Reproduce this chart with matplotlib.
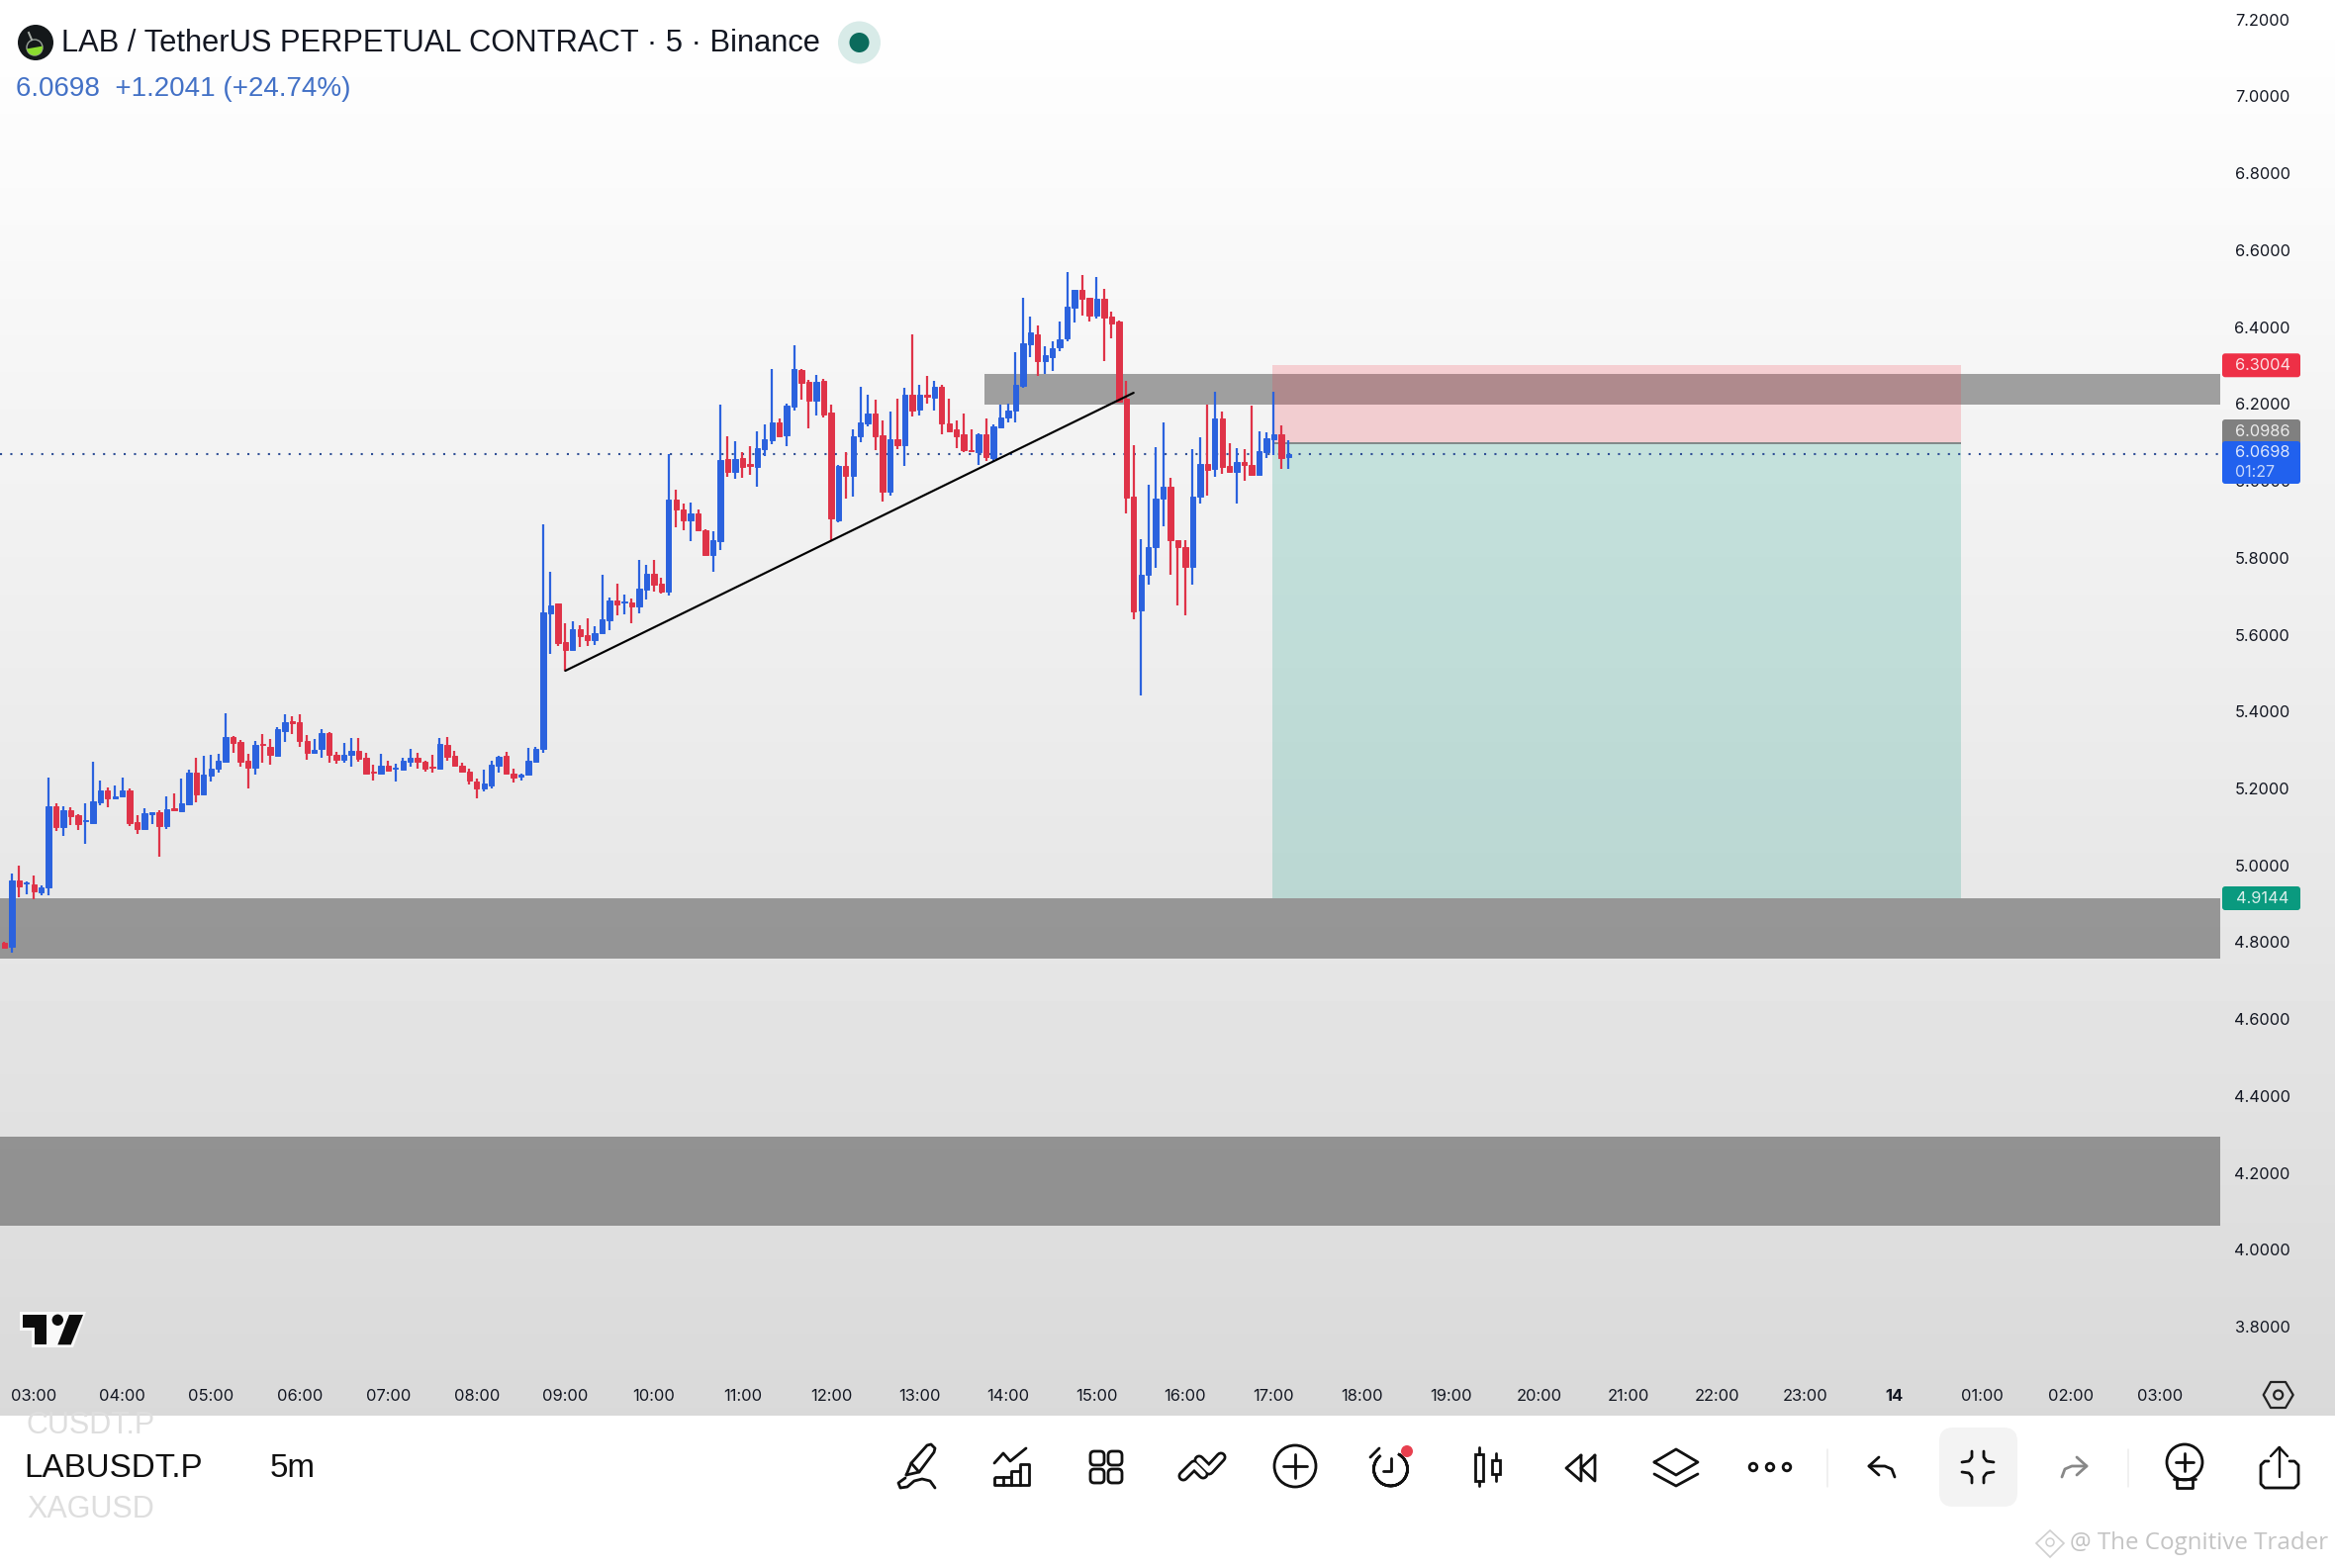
import numpy as np
import matplotlib
matplotlib.use("Agg")
import matplotlib.pyplot as plt
from matplotlib.patches import Rectangle, FancyBboxPatch, Circle, Polygon, Wedge

W, H = 2360, 1585
CHART_H = 1431
PRICE_W = 2244

# ---------- data ----------
directions = ("r"
    "brbrbbrbrr" "bbbrbbrrbb" "rbrbbrbbbb" "rrrbrrbbrr" "rbbrrbbrrr"
    "brbbbrrrbr" "rrrrbbbrrb" "bbbbrrbrrb" "bbrbrbbrrb" "rrbrrbbrbr"
    "rbbbrbbrrb" "rrbrbbbrrb" "rbrbrbrrrr" "rbrbbbbbbr" "bbbbbrrbrr"
    "rrrbbbbrrr" "bbrbrrbrrb" "bbrb")
highs = [4.802,
    4.978,4.999,4.959,4.974,4.948,5.228,5.162,5.154,5.151,5.134,
    5.161,5.269,5.220,5.203,5.209,5.228,5.201,5.131,5.149,5.137,
    5.143,5.179,5.187,5.225,5.248,5.280,5.285,5.287,5.290,5.395,
    5.336,5.325,5.291,5.323,5.341,5.328,5.359,5.393,5.388,5.393,
    5.338,5.328,5.355,5.347,5.295,5.318,5.331,5.331,5.292,5.261,
    5.289,5.271,5.264,5.280,5.302,5.292,5.273,5.287,5.331,5.333,
    5.299,5.268,5.252,5.227,5.248,5.273,5.284,5.295,5.252,5.239,
    5.305,5.307,5.887,5.763,5.681,5.629,5.634,5.625,5.642,5.621,
    5.755,5.696,5.732,5.703,5.695,5.794,5.781,5.794,5.747,6.070,
    5.976,5.940,5.943,5.926,5.874,5.870,6.198,6.117,6.103,6.075,
    6.091,6.129,6.146,6.291,6.161,6.200,6.352,6.290,6.262,6.276,
    6.264,6.197,6.041,6.074,6.134,6.245,6.224,6.211,6.156,6.180,
    6.213,6.242,6.380,6.249,6.274,6.261,6.249,6.213,6.156,6.175,
    6.135,6.123,6.163,6.147,6.199,6.200,6.334,6.476,6.427,6.403,
    6.351,6.363,6.415,6.543,6.497,6.535,6.477,6.530,6.499,6.439,
    6.417,6.260,6.094,5.848,5.990,6.087,6.151,6.009,5.845,5.847,
    6.082,6.113,6.199,6.231,6.180,6.099,6.084,6.082,6.195,6.128,
    6.127,6.231,6.144,6.105]
body_tops = [4.798,
    4.961,4.961,4.956,4.950,4.942,5.154,5.154,5.144,5.143,5.131,
    5.117,5.167,5.194,5.195,5.180,5.194,5.196,5.113,5.136,5.137,
    5.137,5.145,5.149,5.161,5.242,5.241,5.236,5.252,5.271,5.334,
    5.334,5.321,5.271,5.312,5.315,5.307,5.354,5.373,5.374,5.372,
    5.323,5.301,5.345,5.345,5.287,5.288,5.298,5.299,5.280,5.244,
    5.258,5.258,5.253,5.271,5.281,5.281,5.269,5.256,5.315,5.312,
    5.284,5.260,5.244,5.218,5.212,5.263,5.283,5.284,5.239,5.237,
    5.271,5.302,5.658,5.677,5.681,5.580,5.614,5.614,5.599,5.605,
    5.640,5.689,5.689,5.686,5.684,5.719,5.758,5.758,5.732,5.950,
    5.950,5.926,5.914,5.915,5.871,5.846,6.054,6.056,6.057,6.058,
    6.044,6.084,6.108,6.151,6.151,6.195,6.290,6.288,6.257,6.257,
    6.259,6.177,6.039,6.038,6.116,6.151,6.175,6.175,6.118,6.108,
    6.108,6.224,6.224,6.224,6.223,6.245,6.245,6.149,6.133,6.120,
    6.081,6.120,6.120,6.141,6.165,6.184,6.250,6.357,6.386,6.382,
    6.327,6.346,6.369,6.454,6.497,6.496,6.476,6.473,6.473,6.427,
    6.414,6.213,5.958,5.755,5.829,5.953,5.984,5.984,5.845,5.827,
    5.960,6.045,6.044,6.162,6.162,6.038,6.050,6.050,6.041,6.076,
    6.110,6.120,6.120,6.0698]
body_bottoms = [4.787,
    4.789,4.945,4.952,4.932,4.930,4.942,5.100,5.100,5.129,5.108,
    5.114,5.110,5.165,5.173,5.174,5.179,5.110,5.094,5.094,5.134,
    5.102,5.102,5.144,5.141,5.160,5.185,5.185,5.233,5.251,5.269,
    5.319,5.269,5.254,5.254,5.312,5.287,5.286,5.350,5.371,5.323,
    5.293,5.293,5.302,5.288,5.275,5.275,5.288,5.277,5.239,5.242,
    5.239,5.247,5.251,5.250,5.269,5.269,5.251,5.253,5.252,5.283,
    5.260,5.244,5.220,5.200,5.200,5.209,5.260,5.239,5.228,5.230,
    5.237,5.270,5.302,5.655,5.578,5.561,5.561,5.597,5.587,5.587,
    5.605,5.638,5.678,5.683,5.674,5.674,5.718,5.731,5.712,5.713,
    5.926,5.898,5.898,5.871,5.806,5.808,5.844,6.024,6.024,6.036,
    6.039,6.036,6.082,6.105,6.117,6.118,6.194,6.255,6.208,6.208,
    6.173,5.902,5.897,6.014,6.013,6.116,6.149,6.117,5.972,5.972,
    6.093,6.094,6.183,6.185,6.219,6.217,6.150,6.130,6.117,6.080,
    6.077,6.075,6.062,6.060,6.140,6.165,6.184,6.247,6.356,6.312,
    6.312,6.322,6.348,6.370,6.451,6.474,6.429,6.429,6.425,6.410,
    6.206,5.957,5.661,5.664,5.756,5.828,5.954,5.845,5.828,5.777,
    5.777,5.960,6.028,6.032,6.037,6.022,6.024,6.040,6.015,6.016,
    6.075,6.108,6.060,6.061]
lows = [4.786,
    4.772,4.916,4.925,4.913,4.922,4.922,5.089,5.076,5.105,5.092,
    5.055,5.110,5.156,5.151,5.173,5.179,5.101,5.081,5.094,5.107,
    5.022,5.094,5.143,5.141,5.156,5.165,5.184,5.218,5.242,5.269,
    5.292,5.257,5.199,5.237,5.268,5.261,5.286,5.321,5.341,5.308,
    5.275,5.291,5.280,5.266,5.265,5.267,5.256,5.269,5.239,5.221,
    5.235,5.244,5.218,5.250,5.257,5.251,5.244,5.241,5.252,5.273,
    5.258,5.242,5.211,5.175,5.191,5.201,5.242,5.235,5.216,5.221,
    5.237,5.270,5.293,5.551,5.571,5.505,5.561,5.569,5.571,5.574,
    5.605,5.612,5.651,5.653,5.629,5.655,5.691,5.712,5.707,5.702,
    5.878,5.871,5.844,5.871,5.804,5.764,5.820,6.010,6.005,6.008,
    6.015,5.984,6.065,6.096,6.114,6.090,6.183,6.211,6.137,6.171,
    6.165,5.844,5.892,5.954,5.960,6.101,6.142,6.080,5.945,5.961,
    6.082,6.039,6.168,6.171,6.201,6.183,6.120,6.127,6.086,6.075,
    6.075,6.041,6.051,6.050,6.140,6.151,6.151,6.242,6.322,6.274,
    6.277,6.286,6.338,6.363,6.413,6.429,6.415,6.423,6.312,6.371,
    6.204,5.916,5.640,5.441,5.731,5.773,5.881,5.756,5.677,5.651,
    5.731,5.942,5.962,6.011,6.019,6.020,5.940,6.001,6.013,6.016,
    6.058,6.067,6.031,6.031]
first_bar = -4   # bars are counted from the 03:00 candle

price_ticks = [7.2,7.0,6.8,6.6,6.4,6.2,6.0,5.8,5.6,5.4,5.2,5.0,4.8,4.6,4.4,4.2,4.0,3.8]
time_labels = ["03:00","04:00","05:00","06:00","07:00","08:00","09:00","10:00","11:00","12:00",
               "13:00","14:00","15:00","16:00","17:00","18:00","19:00","20:00","21:00","22:00",
               "23:00","14","01:00","02:00","03:00"]

zone_tops = [6.278, 4.914, 4.295]
zone_bottoms = [6.198, 4.757, 4.063]
zone_starts = [128.8, None, None]

trend_bars = [72, 149]
trend_prices = [5.506, 6.229]

entry_price = 6.0986
stop_price = 6.3004
target_price = 4.9144
last_price = 6.0698
position_bars = [167.8, 261.1]

# ---------- colours ----------
UP = "#2b62de"
DOWN = "#df3348"
INK = "#131722"

fig = plt.figure(figsize=(W/100, H/100), dpi=100, facecolor="white")
ax = fig.add_axes([0, 1-CHART_H/H, 1, CHART_H/H])
bar_px, bar_x0 = 7.46, 34.2
ax.set_xlim((0-bar_x0)/bar_px, (W-bar_x0)/bar_px)
ax.set_ylim(7.2-(CHART_H-19.6)/388.7, 7.2+19.6/388.7)

# background gradient
grad = np.linspace(255, 217, 256).reshape(-1, 1)/255
ax.imshow(grad, cmap="gray", vmin=0, vmax=1, aspect="auto", extent=[*ax.get_xlim(), *ax.get_ylim()],
          origin="upper", zorder=0, interpolation="bilinear")

x_right = (PRICE_W-bar_x0)/bar_px
x_left = ax.get_xlim()[0]
for t, b, s in zip(zone_tops, zone_bottoms, zone_starts):
    x0 = x_left if s is None else s
    ax.add_patch(Rectangle((x0, b), x_right-x0, t-b, fc="black", alpha=0.35, lw=0, zorder=1))

# long position
x0, x1 = position_bars
ax.add_patch(Rectangle((x0, entry_price), x1-x0, stop_price-entry_price, fc="#f23645", alpha=0.2, lw=0, zorder=1.2))
ax.add_patch(Rectangle((x0, target_price), x1-x0, entry_price-target_price, fc="#089981", alpha=0.2, lw=0, zorder=1.2))
ax.plot([x0, x1], [entry_price]*2, color="#808888", lw=1.4, zorder=1.3, solid_capstyle="butt")

# last price line
ax.plot([x_left, x_right], [last_price]*2, color="#2f4f96", lw=1.5, ls=(0, (1, 4)), zorder=1.4)

# candles
xs = np.arange(len(highs)) + first_bar
is_up = np.array([d == "b" for d in directions])
tops, bots = np.array(body_tops), np.array(body_bottoms)
colors = np.where(is_up, UP, DOWN)
ax.vlines(xs, lows, highs, colors=colors, lw=1.6, zorder=3)
ax.bar(xs, tops-bots, bottom=bots, width=0.72, color=colors, edgecolor=colors, lw=0.7, zorder=3.1)

# trend line
ax.plot(trend_bars, trend_prices, color="black", lw=1.55, zorder=4, solid_capstyle="round")

# axes / ticks
for s in ax.spines.values():
    s.set_visible(False)
ax.set_yticks(price_ticks)
ax.set_yticklabels([f"{p:.4f}" for p in price_ticks], family="Inter", fontsize=11.8, color=INK)
ax.yaxis.tick_right()
ax.tick_params(axis="y", length=0, pad=-52.8)
for lb in ax.get_yticklabels():
    lb.set_ha("center")
ax.set_xticks(np.arange(len(time_labels))*12)
ax.set_xticklabels(time_labels, family="Inter", fontsize=11.9, color=INK)
ax.tick_params(axis="x", length=0, pad=-19.8)
for lb in ax.get_xticklabels():
    if lb.get_text() == "14":
        lb.set_fontweight("bold")

# ---------- overlay in pixel space ----------
ui = fig.add_axes([0, 0, 1, 1], zorder=10)
ui.set_xlim(0, W)
ui.set_ylim(H, 0)
ui.axis("off")

def py(price):
    return H - ax.transData.transform((0, price))[1]

def tag(price, color, text, y0=None, y1=None, text_y=None):
    yc = py(price)
    y0 = yc-12 if y0 is None else y0
    y1 = yc+12 if y1 is None else y1
    ui.add_patch(FancyBboxPatch((2246+3, y0+3), 79-6, y1-y0-6, boxstyle="round,pad=3",
                                fc=color, ec="none", zorder=3))
    if text:
        ui.text(2287, yc+0.5 if text_y is None else text_y, text, ha="center", va="center", family="Inter",
                fontsize=11.8, color="white", alpha=0.85, zorder=4)

tag(stop_price, "#ee3046", "6.3004")
tag(target_price, "#0a9a7f", "4.9144")
tag(entry_price, "#808080", "6.0986", y0=424, y1=452, text_y=436.5)
tag(last_price, "#2161ee", "6.0698", y0=446, y1=489, text_y=458)
ui.text(2259, 477, "01:27", ha="left", va="center", family="Inter", fontsize=11.5, color="white", alpha=0.75, zorder=4)

# header
ui.text(62, 44, "LAB / TetherUS PERPETUAL CONTRACT · 5 · Binance", family="Liberation Sans", fontsize=22.25,
        color=INK, ha="left", va="center")
ui.text(16, 90, "6.0698  +1.2041 (+24.74%)", family="Liberation Sans", fontsize=20,
        color="#4371c6", ha="left", va="center")
ui.add_patch(Circle((36, 43), 18, fc="#14181a", ec="none"))
ui.add_patch(Circle((35, 48), 8, fc="none", ec="#9aa39a", lw=1))
ui.add_patch(Wedge((35, 48), 8, 350, 170, fc="#8bdc2f", ec="none"))
ui.plot([32, 29], [40, 33], color="#aab0aa", lw=1.4)
ui.add_patch(Circle((868.5, 43), 21.5, fc="#d8ebe8", ec="none"))
ui.add_patch(Circle((868.5, 43), 10, fc="#0b6b5c", ec="none"))

# TradingView mark
t_mark = [(23.3,1329),(47.3,1329),(47.3,1359.3),(35.3,1359.3),(35.3,1341.7),(23.3,1341.7)]
s_mark = [(70,1329),(84,1329),(71.7,1359.3),(58.3,1359.3)]
halo = [(20,1326),(87,1326),(74,1362),(32,1362),(32,1345),(20,1345)]
ui.add_patch(Polygon(halo, closed=True, fc="white", ec="none", alpha=0.85))
ui.add_patch(Polygon(t_mark, closed=True, fc="#0c0c0c", ec="none"))
ui.add_patch(Polygon(s_mark, closed=True, fc="#0c0c0c", ec="none"))
ui.add_patch(Circle((58.3, 1334.3), 5.7, fc="#0c0c0c", ec="none"))

# settings hex on axis corner
hx = [(2287.7,1410),(2295,1397),(2310,1397),(2317.7,1410),(2310,1423),(2295,1423)]
ui.add_patch(Polygon(hx, closed=True, fc="none", ec="#222222", lw=1.6, joinstyle="round"))
ui.add_patch(Circle((2302.7, 1410), 4.5, fc="none", ec="#222222", lw=1.6))

# bottom bar text
ui.text(24, 1484.5, "LABUSDT.P", family="Liberation Sans", fontsize=23.9, color="#111111", ha="left", va="center")
ui.text(273, 1484.5, "5m", family="Liberation Sans", fontsize=23.9, color="#111111", ha="left", va="center")
t1 = ui.text(27, 1441, "CUSDT.P", family="Liberation Sans", fontsize=22, color="#dedede", ha="left", va="center")
t1.set_clip_path(Rectangle((0, CHART_H), W, 100, transform=ui.transData))
ui.text(27, 1526, "XAGUSD", family="Liberation Sans", fontsize=22, color="#dedede", ha="left", va="center")

# watermark
ui.text(2092, 1560, "@ The Cognitive Trader", family="Open Sans", fontsize=17.4, color="#c4c4c4",
        ha="left", va="center")
ui.add_patch(Polygon([(2072,1547),(2086,1560),(2072,1574),(2058,1560)], closed=True, fc="none", ec="#cfcfcf", lw=1.2))
ui.add_patch(Circle((2072, 1559), 4, fc="none", ec="#cfcfcf", lw=1.1))

# ---------- toolbar icons ----------
ICON = "#111111"
def pl(pts, color=ICON, lw=2.8, **kw):
    xx, yy = zip(*pts)
    ui.plot(xx, yy, color=color, lw=lw*0.72, solid_capstyle=kw.get("cap", "round"),
            solid_joinstyle="round", zorder=kw.get("z", 5))
def rr(x, y, w, h, r, fc="none", ec=ICON, lw=2.8, z=5):
    ui.add_patch(FancyBboxPatch((x+r, y+r), w-2*r, h-2*r, boxstyle=f"round,pad={r}", fc=fc, ec=ec, lw=lw*0.72, zorder=z))
def ci(x, y, r, fc="none", ec=ICON, lw=2.8, z=5):
    ui.add_patch(Circle((x, y), r, fc=fc, ec=ec, lw=lw*0.72, zorder=z))

# pen
pl([(916,1491),(921,1479),(937,1461),(941,1460),(945,1464),(944,1468),(929,1488),(916,1491)])
pl([(921,1479),(929,1488)])
pl([(915,1494),(908,1499),(910,1504),(917,1503),(924,1497),(932,1495),(940,1497),(945,1504)])
# chart
pl([(1005,1479),(1014,1469),(1021,1477),(1037,1464)])
pl([(1005,1493),(1022,1493),(1022,1487),(1031,1487),(1031,1480),(1040,1480),(1040,1501),(1005,1501),(1005,1493)], cap="butt")
pl([(1014,1493),(1014,1501)]); pl([(1022,1493),(1022,1501)]); pl([(1031,1487),(1031,1501)])
# grid
for gx in (1102, 1120):
    for gy in (1467, 1485):
        rr(gx, gy, 14, 14, 4)
# double chevrons
z1 = [(1196,1492),(1207,1481),(1216,1490)]
z2 = [(1212,1476),(1222,1486),(1234,1473)]
for zz in (z1, z2):
    pl(zz, lw=11)
for zz in (z1, z2):
    pl(zz, color="white", lw=5.5, z=6)
# plus circle
ci(1309, 1482, 21); pl([(1309,1470),(1309,1494)]); pl([(1297,1482),(1321,1482)])
# alarm
ui.add_patch(Wedge((1405.5, 1485), 17, -60, 230, width=0.01, ec=ICON, lw=2, fc="none", zorder=5))
pl([(1405.5,1474),(1405.5,1487),(1398,1487)]); pl([(1385,1473),(1394,1464)])
ci(1422, 1467, 6, fc="#e8404f", ec="none", lw=0)
# candles icon
pl([(1495,1463),(1495,1470)]); pl([(1495,1497),(1495,1502)])
ui.add_patch(Rectangle((1491,1470), 8, 27, fc="none", ec=ICON, lw=2, zorder=5))
pl([(1511.5,1469),(1511.5,1476)]); pl([(1511.5,1490),(1511.5,1497)])
ui.add_patch(Rectangle((1507.5,1476), 8, 14, fc="none", ec=ICON, lw=2, zorder=5))
# rewind
pl([(1598,1471),(1583,1484),(1598,1497),(1598,1471)])
pl([(1612,1471),(1598,1484),(1612,1497),(1612,1471)])
# layers
pl([(1672,1478),(1694,1465),(1716,1478),(1694,1491),(1672,1478)])
pl([(1672,1490),(1694,1502),(1716,1490)])
# dots
for dx in (1772, 1789, 1806):
    ci(dx, 1483, 3.8)
# separators
pl([(1846.5,1465),(1846.5,1503)], color="#ececec", lw=1.5)
pl([(2151,1465),(2151,1503)], color="#ececec", lw=1.5)
# undo
pl([(1899,1473),(1889,1482),(1899,1491)])
pl([(1889,1482),(1905,1482),(1912,1485),(1915,1493)])
# compress
rr(1960, 1443, 79, 80, 14, fc="#f3f3f3", ec="none", lw=0, z=4)
pl([(1993,1467),(1993,1473),(1990,1477),(1983,1478)])
pl([(2005,1467),(2005,1473),(2008,1477),(2015,1478)])
pl([(1983,1488),(1990,1489),(1993,1493),(1993,1499)])
pl([(2015,1488),(2008,1489),(2005,1493),(2005,1499)])
# redo
pl([(2099,1473),(2109,1482),(2099,1491)], color="#888888")
pl([(2109,1482),(2094,1482),(2087,1485),(2084,1493)], color="#888888")
# bulb
ci(2208, 1478, 18); pl([(2208,1469),(2208,1487)]); pl([(2199,1478),(2217,1478)])
pl([(2197,1495),(2219,1495)]); pl([(2200,1496),(2200,1504),(2216,1504),(2216,1496)])
# share
pl([(2293,1477),(2289,1477),(2285,1481),(2285,1500),(2289,1504),(2319,1504),(2323,1500),(2323,1481),(2319,1477),(2314,1477)])
pl([(2303.5,1493),(2303.5,1463)], lw=2.4); pl([(2295,1472),(2303.5,1463),(2312,1472)], lw=2.4)

fig.savefig("out.png", dpi=100, facecolor="white")
